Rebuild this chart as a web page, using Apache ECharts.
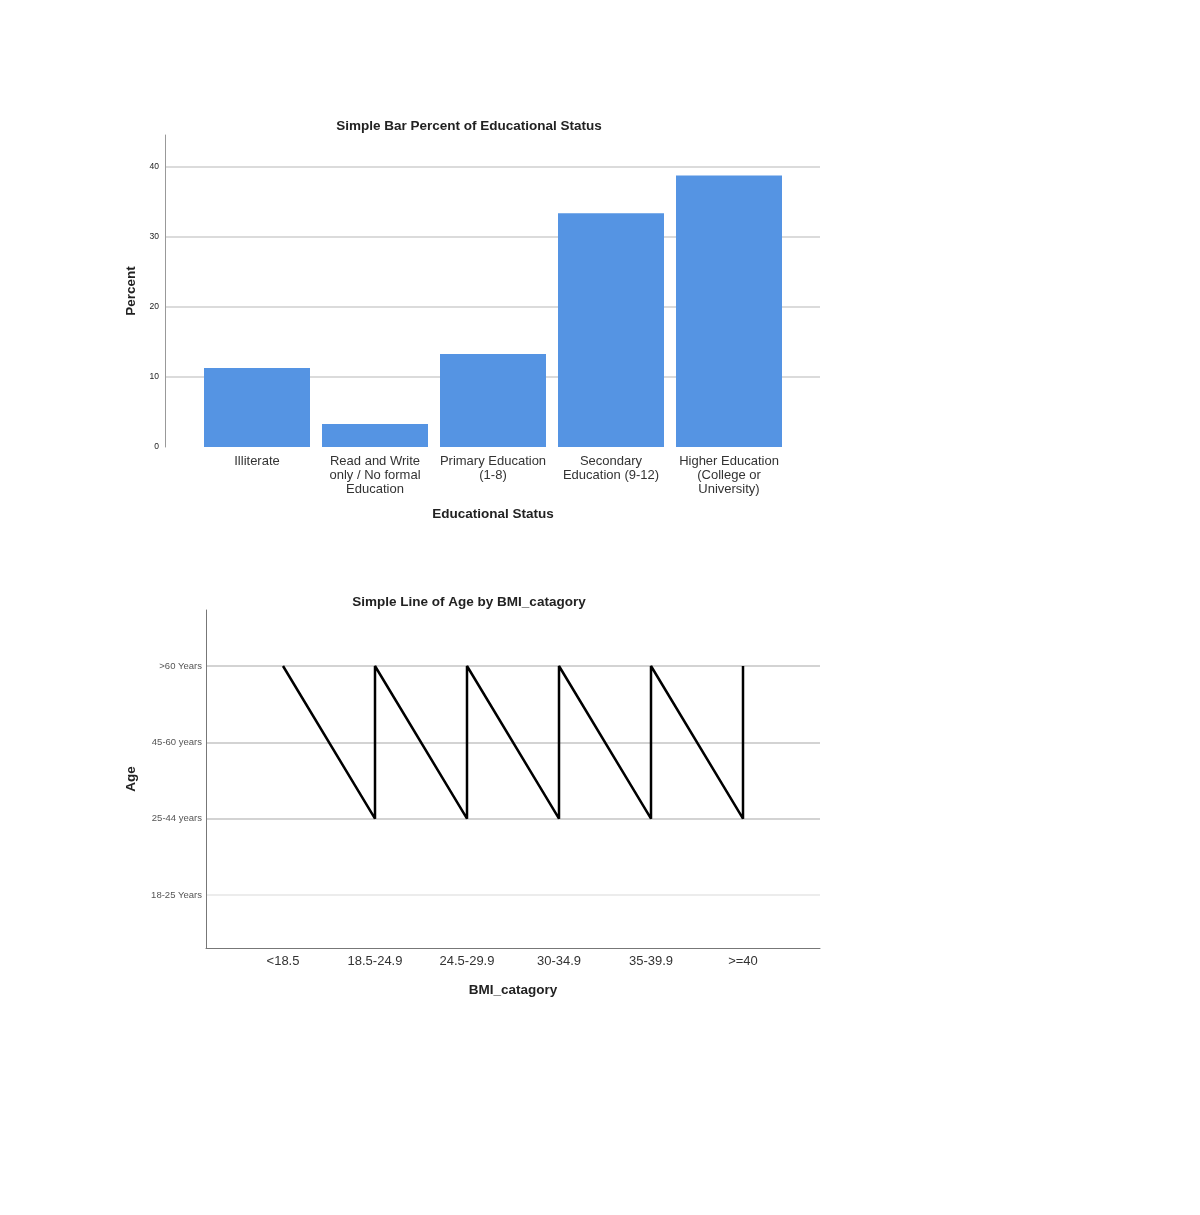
<!DOCTYPE html>
<html>
<head>
<meta charset="utf-8">
<title>Educational Status / Age by BMI</title>
<script src="https://cdn.jsdelivr.net/npm/echarts@6/dist/echarts.min.js"></script>
<style>
  html, body { margin: 0; padding: 0; background: #fff; }
  #main { width: 1200px; height: 1215px; }
</style>
</head>
<body>
<div id="main"></div>
<script>
// data
var eduCategories = ['Illiterate', 'Read and Write\nonly / No formal\nEducation', 'Primary Education\n(1-8)', 'Secondary\nEducation (9-12)', 'Higher Education\n(College or\nUniversity)'];
var eduPercent = [11.3, 3.3, 13.3, 33.4, 38.8];
var percentTicks = [0, 10, 20, 30, 40];

var bmiCategories = ['<18.5', '18.5-24.9', '24.5-29.9', '30-34.9', '35-39.9', '>=40'];
var ageCategories = ['18-25 Years', '25-44 years', '45-60 years', '>60 Years'];
// points of the line, in drawing order
var lineBmi = ['<18.5', '18.5-24.9', '18.5-24.9', '24.5-29.9', '24.5-29.9', '30-34.9', '30-34.9', '35-39.9', '35-39.9', '>=40', '>=40'];
var lineAge = ['>60 Years', '25-44 years', '>60 Years', '25-44 years', '>60 Years', '25-44 years', '>60 Years', '25-44 years', '>60 Years', '25-44 years', '>60 Years'];

var font = "'Liberation Sans', Arial, sans-serif";
var chart = echarts.init(document.getElementById('main'));

var linePoints = lineBmi.map(function (b, i) { return [b, lineAge[i]]; });

var titleStyle = { fontSize: 13.5, fontWeight: 'bold', color: '#222', fontFamily: font };
var nameStyle = { fontSize: 13.5, fontWeight: 'bold', color: '#222', fontFamily: font };

chart.setOption({
    backgroundColor: '#fff',
    animation: false,
    textStyle: { fontFamily: font },
    title: [
        { text: 'Simple Bar Percent of Educational Status', left: 464, top: 114, textAlign: 'center', textStyle: titleStyle },
        { text: 'Simple Line of Age by BMI_catagory', left: 464, top: 590, textAlign: 'center', textStyle: titleStyle }
    ],
    grid: [
        // bar chart: gridlines + tick labels
        { left: 165, width: 655, top: 167, height: 280 },
        // bar chart: y axis line (taller)
        { left: 165, width: 655, top: 135, height: 312 },
        // bar chart: bars
        { left: 198, width: 590, top: 167, height: 280 },
        // line chart: axis lines
        { left: 206, width: 614, top: 610, height: 338 },
        // line chart: gridlines + age labels
        { left: 206, width: 614, top: 666, height: 229 },
        // line chart: the line
        { left: 237, width: 552, top: 666, height: 229 }
    ],
    xAxis: [
        { gridIndex: 0, type: 'value', min: 0, max: 1, show: false },
        { gridIndex: 1, type: 'value', min: 0, max: 1, show: false },
        { gridIndex: 2, type: 'category', data: eduCategories,
          axisLine: { show: false }, axisTick: { show: false },
          axisLabel: { margin: 7, fontSize: 13, color: '#333', lineHeight: 14, interval: 0, fontFamily: font },
          name: 'Educational Status', nameLocation: 'middle', nameGap: 60, nameTextStyle: nameStyle },
        { gridIndex: 3, type: 'value', min: 0, max: 1,
          axisLine: { show: true, lineStyle: { color: '#777', width: 1 } },
          axisTick: { show: false }, axisLabel: { show: false }, splitLine: { show: false },
          name: 'BMI_catagory', nameLocation: 'middle', nameGap: 35, nameTextStyle: nameStyle },
        { gridIndex: 4, type: 'value', min: 0, max: 1, show: false },
        { gridIndex: 5, type: 'category', data: bmiCategories,
          axisLine: { show: false }, axisTick: { show: false },
          axisLabel: { margin: 60, fontSize: 13, color: '#333', interval: 0, fontFamily: font } }
    ],
    yAxis: [
        { gridIndex: 0, type: 'value', min: 0, max: 40, interval: 10,
          axisLine: { show: false }, axisTick: { show: false },
          axisLabel: { margin: 6, fontSize: 8.5, color: '#222', fontFamily: font,
                       formatter: function (v) { return percentTicks.indexOf(v) >= 0 ? String(v) : ''; } },
          splitLine: { show: true, lineStyle: { color: ['rgba(0,0,0,0)', '#cfcfcf', '#cfcfcf', '#cfcfcf', '#cfcfcf'], width: 1.5 } } },
        { gridIndex: 1, type: 'value', min: 0, max: 1,
          axisLine: { show: true, lineStyle: { color: '#999', width: 1 } },
          axisTick: { show: false }, axisLabel: { show: false }, splitLine: { show: false },
          name: 'Percent', nameLocation: 'middle', nameGap: 27, nameTextStyle: nameStyle },
        { gridIndex: 2, type: 'value', min: 0, max: 40, show: false },
        { gridIndex: 3, type: 'value', min: 0, max: 1,
          axisLine: { show: true, lineStyle: { color: '#777', width: 1 } },
          axisTick: { show: false }, axisLabel: { show: false }, splitLine: { show: false },
          name: 'Age', nameLocation: 'middle', nameGap: 68, nameTextStyle: nameStyle },
        { gridIndex: 4, type: 'category', data: ageCategories, boundaryGap: false,
          axisLine: { show: false }, axisTick: { show: false },
          axisLabel: { margin: 4, fontSize: 9.5, color: '#555', fontFamily: font },
          splitLine: { show: true, lineStyle: { color: ['#e6e6e6', '#c4c4c4', '#c4c4c4', '#c4c4c4'], width: 1.5 } } },
        { gridIndex: 5, type: 'category', data: ageCategories, boundaryGap: false, show: false }
    ],
    series: [
        { type: 'bar', xAxisIndex: 2, yAxisIndex: 2, data: eduPercent, barWidth: 106,
          itemStyle: { color: '#5594e3' } },
        { type: 'line', xAxisIndex: 5, yAxisIndex: 5, data: linePoints,
          symbol: 'none', lineStyle: { color: '#000', width: 2.5 } }
    ]
});
</script>
</body>
</html>
